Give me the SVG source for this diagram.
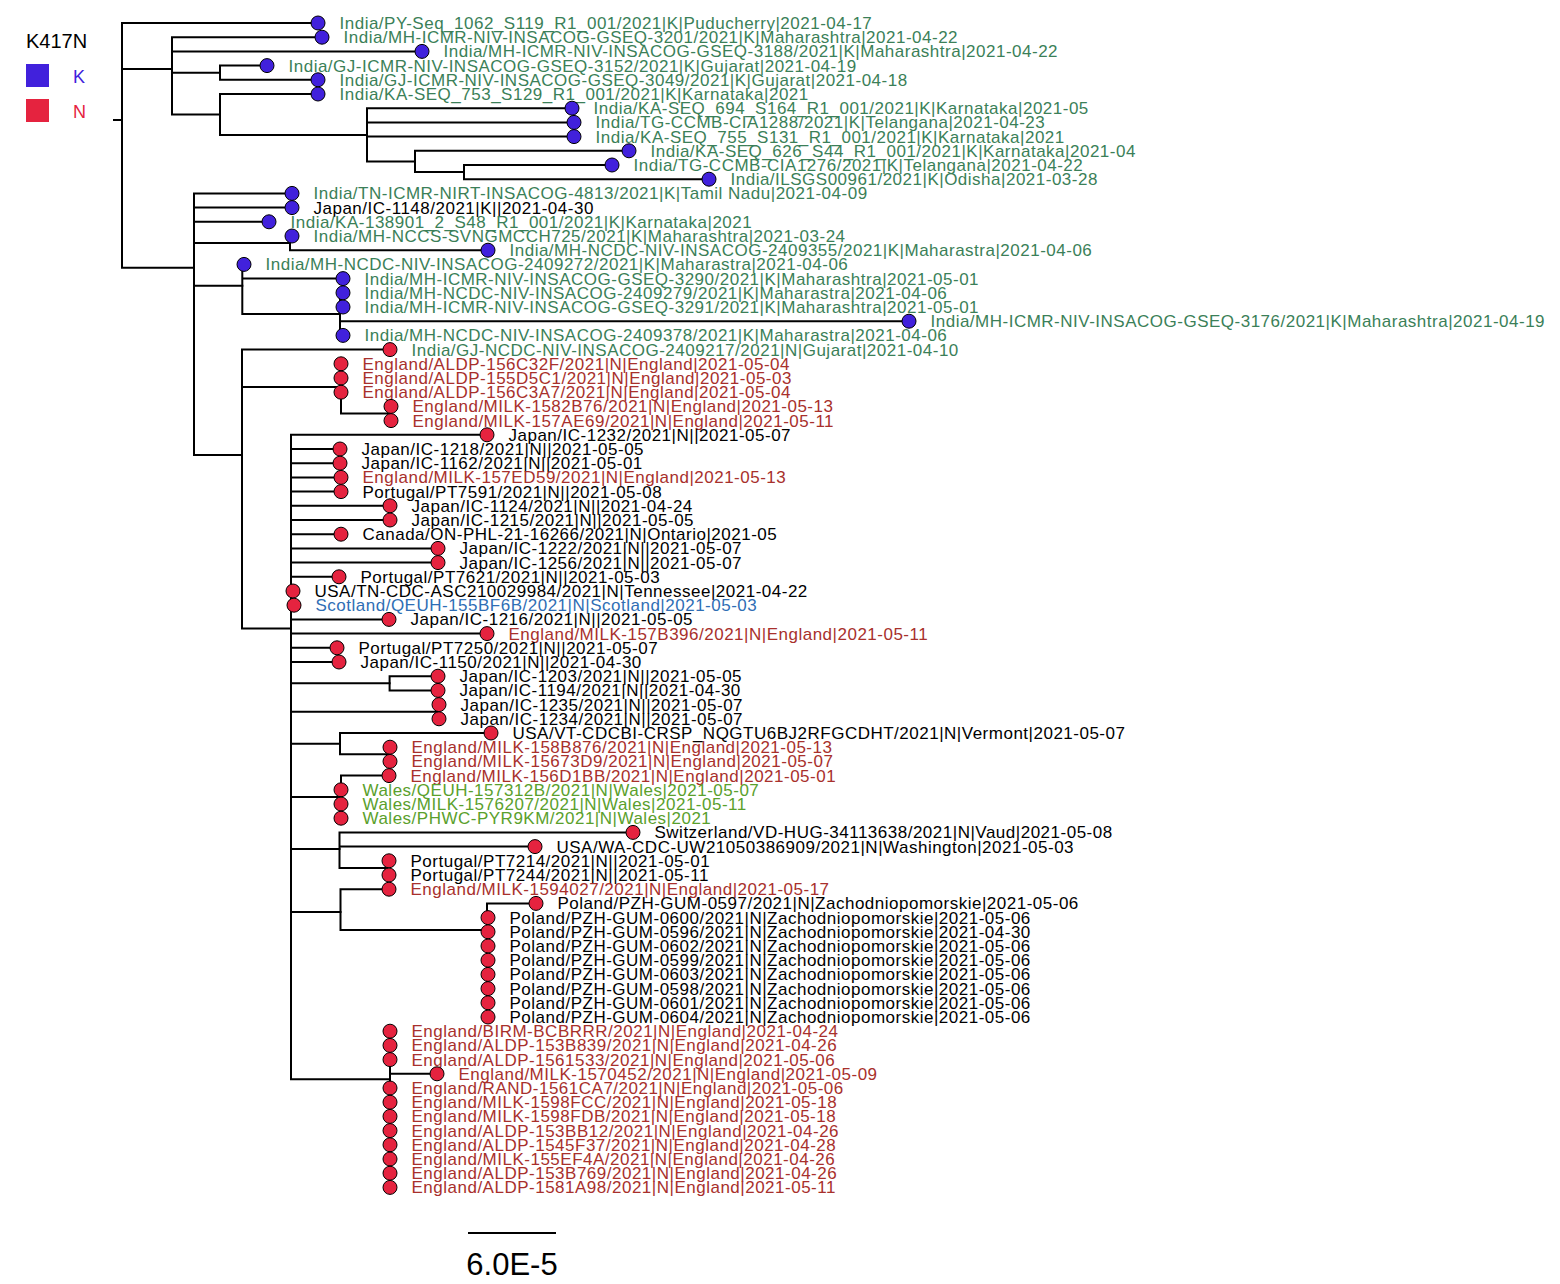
<svg xmlns="http://www.w3.org/2000/svg" width="1560" height="1284" viewBox="0 0 1560 1284">
<style>
text{font-family:"Liberation Sans",Arial,Helvetica,sans-serif;font-size:17px;letter-spacing:0.5px}
.in{fill:#3b7f58}.en{fill:#a8302c}.bk{fill:#000}.sc{fill:#2f6eb5}.wa{fill:#5aa02c}
.k{fill:#4121dc;stroke:#000;stroke-width:1}
.n{fill:#e5233f;stroke:#000;stroke-width:1}
#edges path{fill:none;stroke:#000;stroke-width:2;stroke-linecap:square}
</style>
<defs>
<circle id="ck" r="7" class="k"/>
<circle id="cn" r="7" class="n"/>
</defs>
<rect width="1560" height="1284" fill="#fff"/>
<g id="legend">
<text x="26" y="48" style="font-size:20px;letter-spacing:0" fill="#000">K417N</text>
<rect x="26" y="64" width="23" height="23" fill="#4121dc"/>
<text x="73" y="83" style="font-size:18px;letter-spacing:0" fill="#4121dc">K</text>
<rect x="26" y="99" width="23" height="23" fill="#e5233f"/>
<text x="73" y="118" style="font-size:18px;letter-spacing:0" fill="#e5233f">N</text>
</g>
<g id="edges">
<path d="M114,120 H122 M122,23 V267.8 M122,23 H318 M122,68.9 H172 M122,267.8 H194"/>
<path d="M172,37.2 V114.4 M172,37.2 H322 M172,51.4 H422 M172,72.7 H220 M172,114.4 H220"/>
<path d="M220,65.6 V79.8 M220,65.6 H267 M220,79.8 H318"/>
<path d="M220,94 V134.9 M220,94 H318 M220,134.9 H367"/>
<path d="M367,108.2 V161.5 M367,108.2 H572 M367,122.4 H574 M367,136.6 H574 M367,161.5 H415"/>
<path d="M415,150.8 V172.1 M415,150.8 H629 M415,172.1 H464"/>
<path d="M464,165 V179.2 M464,165 H612 M464,179.2 H709"/>
<path d="M194,193.4 V455 M194,193.4 H292 M194,207.6 H292 M194,221.8 H269 M194,243.1 H290 M194,285.7 H242.3 M194,455 H242"/>
<path d="M290,236 V250.2 M290,250.2 H488"/>
<path d="M242.3,264.4 V314.1 M242.3,264.4 H244 M242.3,278.6 H343 M242.3,314.1 H340"/>
<path d="M340,292.8 V335.4 M340,321.2 H909"/>
<path d="M242,349.6 V628.5 M242,349.6 H390 M242,386.9 H341 M242,628.5 H291"/>
<path d="M341,363.8 V413.5 M341,413.5 H391 M391,406.4 V420.6"/>
<path d="M291,434.8 V1079.3 M291,434.8 H487 M291,449 H340 M291,463.2 H340 M291,477.4 H341 M291,491.6 H341 M291,505.8 H390 M291,520 H390 M291,534.2 H341 M291,548.4 H438 M291,562.6 H438 M291,576.8 H339 M291,619.4 H389 M291,633.6 H487 M291,647.8 H337 M291,662 H339 M291,683.3 H389.6 M291,711.7 H437 M291,743.7 H340 M291,796.9 H341 M291,849 H339.5 M291,912 H340.5 M291,1079.3 H390"/>
<path d="M389.6,676.2 V690.4 M389.6,676.2 H438 M389.6,690.4 H438"/>
<path d="M437,704.6 V718.8"/>
<path d="M340,733 V754.3 M340,733 H491 M340,754.3 H388.3 M388.3,747.2 V761.4"/>
<path d="M341,775.6 V818.2 M341,775.6 H389"/>
<path d="M339.5,832.4 V867.9 M339.5,832.4 H633 M339.5,846.6 H535 M339.5,867.9 H387 M387,860.8 V875"/>
<path d="M340.5,889.2 V930 M340.5,889.2 H389 M340.5,930 H487"/>
<path d="M487,903.4 V1017 M487,903.4 H536"/>
<path d="M390,1031.2 V1187.4 M390,1073.8 H437"/>
</g>
<g id="leaves">
<g id="leaf01" transform="translate(318,23)"><use href="#ck"/><text x="21.5" y="6" class="in">India/PY-Seq_1062_S119_R1_001/2021|K|Puducherry|2021-04-17</text></g>
<g id="leaf02" transform="translate(322,37.2)"><use href="#ck"/><text x="21.5" y="6" class="in">India/MH-ICMR-NIV-INSACOG-GSEQ-3201/2021|K|Maharashtra|2021-04-22</text></g>
<g id="leaf03" transform="translate(422,51.4)"><use href="#ck"/><text x="21.5" y="6" class="in">India/MH-ICMR-NIV-INSACOG-GSEQ-3188/2021|K|Maharashtra|2021-04-22</text></g>
<g id="leaf04" transform="translate(267,65.6)"><use href="#ck"/><text x="21.5" y="6" class="in">India/GJ-ICMR-NIV-INSACOG-GSEQ-3152/2021|K|Gujarat|2021-04-19</text></g>
<g id="leaf05" transform="translate(318,79.8)"><use href="#ck"/><text x="21.5" y="6" class="in">India/GJ-ICMR-NIV-INSACOG-GSEQ-3049/2021|K|Gujarat|2021-04-18</text></g>
<g id="leaf06" transform="translate(318,94)"><use href="#ck"/><text x="21.5" y="6" class="in">India/KA-SEQ_753_S129_R1_001/2021|K|Karnataka|2021</text></g>
<g id="leaf07" transform="translate(572,108.2)"><use href="#ck"/><text x="21.5" y="6" class="in">India/KA-SEQ_694_S164_R1_001/2021|K|Karnataka|2021-05</text></g>
<g id="leaf08" transform="translate(574,122.4)"><use href="#ck"/><text x="21.5" y="6" class="in">India/TG-CCMB-CIA1288/2021|K|Telangana|2021-04-23</text></g>
<g id="leaf09" transform="translate(574,136.6)"><use href="#ck"/><text x="21.5" y="6" class="in">India/KA-SEQ_755_S131_R1_001/2021|K|Karnataka|2021</text></g>
<g id="leaf10" transform="translate(629,150.8)"><use href="#ck"/><text x="21.5" y="6" class="in">India/KA-SEQ_626_S44_R1_001/2021|K|Karnataka|2021-04</text></g>
<g id="leaf11" transform="translate(612,165)"><use href="#ck"/><text x="21.5" y="6" class="in">India/TG-CCMB-CIA1276/2021|K|Telangana|2021-04-22</text></g>
<g id="leaf12" transform="translate(709,179.2)"><use href="#ck"/><text x="21.5" y="6" class="in">India/ILSGS00961/2021|K|Odisha|2021-03-28</text></g>
<g id="leaf13" transform="translate(292,193.4)"><use href="#ck"/><text x="21.5" y="6" class="in">India/TN-ICMR-NIRT-INSACOG-4813/2021|K|Tamil Nadu|2021-04-09</text></g>
<g id="leaf14" transform="translate(292,207.6)"><use href="#ck"/><text x="21.5" y="6" class="bk">Japan/IC-1148/2021|K||2021-04-30</text></g>
<g id="leaf15" transform="translate(269,221.8)"><use href="#ck"/><text x="21.5" y="6" class="in">India/KA-138901_2_S48_R1_001/2021|K|Karnataka|2021</text></g>
<g id="leaf16" transform="translate(292,236)"><use href="#ck"/><text x="21.5" y="6" class="in">India/MH-NCCS-SVNGMCCH725/2021|K|Maharashtra|2021-03-24</text></g>
<g id="leaf17" transform="translate(488,250.2)"><use href="#ck"/><text x="21.5" y="6" class="in">India/MH-NCDC-NIV-INSACOG-2409355/2021|K|Maharastra|2021-04-06</text></g>
<g id="leaf18" transform="translate(244,264.4)"><use href="#ck"/><text x="21.5" y="6" class="in">India/MH-NCDC-NIV-INSACOG-2409272/2021|K|Maharastra|2021-04-06</text></g>
<g id="leaf19" transform="translate(343,278.6)"><use href="#ck"/><text x="21.5" y="6" class="in">India/MH-ICMR-NIV-INSACOG-GSEQ-3290/2021|K|Maharashtra|2021-05-01</text></g>
<g id="leaf20" transform="translate(343,292.8)"><use href="#ck"/><text x="21.5" y="6" class="in">India/MH-NCDC-NIV-INSACOG-2409279/2021|K|Maharastra|2021-04-06</text></g>
<g id="leaf21" transform="translate(343,307)"><use href="#ck"/><text x="21.5" y="6" class="in">India/MH-ICMR-NIV-INSACOG-GSEQ-3291/2021|K|Maharashtra|2021-05-01</text></g>
<g id="leaf22" transform="translate(909,321.2)"><use href="#ck"/><text x="21.5" y="6" class="in">India/MH-ICMR-NIV-INSACOG-GSEQ-3176/2021|K|Maharashtra|2021-04-19</text></g>
<g id="leaf23" transform="translate(343,335.4)"><use href="#ck"/><text x="21.5" y="6" class="in">India/MH-NCDC-NIV-INSACOG-2409378/2021|K|Maharastra|2021-04-06</text></g>
<g id="leaf24" transform="translate(390,349.6)"><use href="#cn"/><text x="21.5" y="6" class="in">India/GJ-NCDC-NIV-INSACOG-2409217/2021|N|Gujarat|2021-04-10</text></g>
<g id="leaf25" transform="translate(341,363.8)"><use href="#cn"/><text x="21.5" y="6" class="en">England/ALDP-156C32F/2021|N|England|2021-05-04</text></g>
<g id="leaf26" transform="translate(341,378)"><use href="#cn"/><text x="21.5" y="6" class="en">England/ALDP-155D5C1/2021|N|England|2021-05-03</text></g>
<g id="leaf27" transform="translate(341,392.2)"><use href="#cn"/><text x="21.5" y="6" class="en">England/ALDP-156C3A7/2021|N|England|2021-05-04</text></g>
<g id="leaf28" transform="translate(391,406.4)"><use href="#cn"/><text x="21.5" y="6" class="en">England/MILK-1582B76/2021|N|England|2021-05-13</text></g>
<g id="leaf29" transform="translate(391,420.6)"><use href="#cn"/><text x="21.5" y="6" class="en">England/MILK-157AE69/2021|N|England|2021-05-11</text></g>
<g id="leaf30" transform="translate(487,434.8)"><use href="#cn"/><text x="21.5" y="6" class="bk">Japan/IC-1232/2021|N||2021-05-07</text></g>
<g id="leaf31" transform="translate(340,449)"><use href="#cn"/><text x="21.5" y="6" class="bk">Japan/IC-1218/2021|N||2021-05-05</text></g>
<g id="leaf32" transform="translate(340,463.2)"><use href="#cn"/><text x="21.5" y="6" class="bk">Japan/IC-1162/2021|N||2021-05-01</text></g>
<g id="leaf33" transform="translate(341,477.4)"><use href="#cn"/><text x="21.5" y="6" class="en">England/MILK-157ED59/2021|N|England|2021-05-13</text></g>
<g id="leaf34" transform="translate(341,491.6)"><use href="#cn"/><text x="21.5" y="6" class="bk">Portugal/PT7591/2021|N||2021-05-08</text></g>
<g id="leaf35" transform="translate(390,505.8)"><use href="#cn"/><text x="21.5" y="6" class="bk">Japan/IC-1124/2021|N||2021-04-24</text></g>
<g id="leaf36" transform="translate(390,520)"><use href="#cn"/><text x="21.5" y="6" class="bk">Japan/IC-1215/2021|N||2021-05-05</text></g>
<g id="leaf37" transform="translate(341,534.2)"><use href="#cn"/><text x="21.5" y="6" class="bk">Canada/ON-PHL-21-16266/2021|N|Ontario|2021-05</text></g>
<g id="leaf38" transform="translate(438,548.4)"><use href="#cn"/><text x="21.5" y="6" class="bk">Japan/IC-1222/2021|N||2021-05-07</text></g>
<g id="leaf39" transform="translate(438,562.6)"><use href="#cn"/><text x="21.5" y="6" class="bk">Japan/IC-1256/2021|N||2021-05-07</text></g>
<g id="leaf40" transform="translate(339,576.8)"><use href="#cn"/><text x="21.5" y="6" class="bk">Portugal/PT7621/2021|N||2021-05-03</text></g>
<g id="leaf41" transform="translate(293,591)"><use href="#cn"/><text x="21.5" y="6" class="bk">USA/TN-CDC-ASC210029984/2021|N|Tennessee|2021-04-22</text></g>
<g id="leaf42" transform="translate(294,605.2)"><use href="#cn"/><text x="21.5" y="6" class="sc">Scotland/QEUH-155BF6B/2021|N|Scotland|2021-05-03</text></g>
<g id="leaf43" transform="translate(389,619.4)"><use href="#cn"/><text x="21.5" y="6" class="bk">Japan/IC-1216/2021|N||2021-05-05</text></g>
<g id="leaf44" transform="translate(487,633.6)"><use href="#cn"/><text x="21.5" y="6" class="en">England/MILK-157B396/2021|N|England|2021-05-11</text></g>
<g id="leaf45" transform="translate(337,647.8)"><use href="#cn"/><text x="21.5" y="6" class="bk">Portugal/PT7250/2021|N||2021-05-07</text></g>
<g id="leaf46" transform="translate(339,662)"><use href="#cn"/><text x="21.5" y="6" class="bk">Japan/IC-1150/2021|N||2021-04-30</text></g>
<g id="leaf47" transform="translate(438,676.2)"><use href="#cn"/><text x="21.5" y="6" class="bk">Japan/IC-1203/2021|N||2021-05-05</text></g>
<g id="leaf48" transform="translate(438,690.4)"><use href="#cn"/><text x="21.5" y="6" class="bk">Japan/IC-1194/2021|N||2021-04-30</text></g>
<g id="leaf49" transform="translate(439,704.6)"><use href="#cn"/><text x="21.5" y="6" class="bk">Japan/IC-1235/2021|N||2021-05-07</text></g>
<g id="leaf50" transform="translate(439,718.8)"><use href="#cn"/><text x="21.5" y="6" class="bk">Japan/IC-1234/2021|N||2021-05-07</text></g>
<g id="leaf51" transform="translate(491,733)"><use href="#cn"/><text x="21.5" y="6" class="bk">USA/VT-CDCBI-CRSP_NQGTU6BJ2RFGCDHT/2021|N|Vermont|2021-05-07</text></g>
<g id="leaf52" transform="translate(390,747.2)"><use href="#cn"/><text x="21.5" y="6" class="en">England/MILK-158B876/2021|N|England|2021-05-13</text></g>
<g id="leaf53" transform="translate(390,761.4)"><use href="#cn"/><text x="21.5" y="6" class="en">England/MILK-15673D9/2021|N|England|2021-05-07</text></g>
<g id="leaf54" transform="translate(389,775.6)"><use href="#cn"/><text x="21.5" y="6" class="en">England/MILK-156D1BB/2021|N|England|2021-05-01</text></g>
<g id="leaf55" transform="translate(341,789.8)"><use href="#cn"/><text x="21.5" y="6" class="wa">Wales/QEUH-157312B/2021|N|Wales|2021-05-07</text></g>
<g id="leaf56" transform="translate(341,804)"><use href="#cn"/><text x="21.5" y="6" class="wa">Wales/MILK-1576207/2021|N|Wales|2021-05-11</text></g>
<g id="leaf57" transform="translate(341,818.2)"><use href="#cn"/><text x="21.5" y="6" class="wa">Wales/PHWC-PYR9KM/2021|N|Wales|2021</text></g>
<g id="leaf58" transform="translate(633,832.4)"><use href="#cn"/><text x="21.5" y="6" class="bk">Switzerland/VD-HUG-34113638/2021|N|Vaud|2021-05-08</text></g>
<g id="leaf59" transform="translate(535,846.6)"><use href="#cn"/><text x="21.5" y="6" class="bk">USA/WA-CDC-UW21050386909/2021|N|Washington|2021-05-03</text></g>
<g id="leaf60" transform="translate(389,860.8)"><use href="#cn"/><text x="21.5" y="6" class="bk">Portugal/PT7214/2021|N||2021-05-01</text></g>
<g id="leaf61" transform="translate(389,875)"><use href="#cn"/><text x="21.5" y="6" class="bk">Portugal/PT7244/2021|N||2021-05-11</text></g>
<g id="leaf62" transform="translate(389,889.2)"><use href="#cn"/><text x="21.5" y="6" class="en">England/MILK-1594027/2021|N|England|2021-05-17</text></g>
<g id="leaf63" transform="translate(536,903.4)"><use href="#cn"/><text x="21.5" y="6" class="bk">Poland/PZH-GUM-0597/2021|N|Zachodniopomorskie|2021-05-06</text></g>
<g id="leaf64" transform="translate(488,917.6)"><use href="#cn"/><text x="21.5" y="6" class="bk">Poland/PZH-GUM-0600/2021|N|Zachodniopomorskie|2021-05-06</text></g>
<g id="leaf65" transform="translate(488,931.8)"><use href="#cn"/><text x="21.5" y="6" class="bk">Poland/PZH-GUM-0596/2021|N|Zachodniopomorskie|2021-04-30</text></g>
<g id="leaf66" transform="translate(488,946)"><use href="#cn"/><text x="21.5" y="6" class="bk">Poland/PZH-GUM-0602/2021|N|Zachodniopomorskie|2021-05-06</text></g>
<g id="leaf67" transform="translate(488,960.2)"><use href="#cn"/><text x="21.5" y="6" class="bk">Poland/PZH-GUM-0599/2021|N|Zachodniopomorskie|2021-05-06</text></g>
<g id="leaf68" transform="translate(488,974.4)"><use href="#cn"/><text x="21.5" y="6" class="bk">Poland/PZH-GUM-0603/2021|N|Zachodniopomorskie|2021-05-06</text></g>
<g id="leaf69" transform="translate(488,988.6)"><use href="#cn"/><text x="21.5" y="6" class="bk">Poland/PZH-GUM-0598/2021|N|Zachodniopomorskie|2021-05-06</text></g>
<g id="leaf70" transform="translate(488,1002.8)"><use href="#cn"/><text x="21.5" y="6" class="bk">Poland/PZH-GUM-0601/2021|N|Zachodniopomorskie|2021-05-06</text></g>
<g id="leaf71" transform="translate(488,1017)"><use href="#cn"/><text x="21.5" y="6" class="bk">Poland/PZH-GUM-0604/2021|N|Zachodniopomorskie|2021-05-06</text></g>
<g id="leaf72" transform="translate(390,1031.2)"><use href="#cn"/><text x="21.5" y="6" class="en">England/BIRM-BCBRRR/2021|N|England|2021-04-24</text></g>
<g id="leaf73" transform="translate(390,1045.4)"><use href="#cn"/><text x="21.5" y="6" class="en">England/ALDP-153B839/2021|N|England|2021-04-26</text></g>
<g id="leaf74" transform="translate(390,1059.6)"><use href="#cn"/><text x="21.5" y="6" class="en">England/ALDP-1561533/2021|N|England|2021-05-06</text></g>
<g id="leaf75" transform="translate(437,1073.8)"><use href="#cn"/><text x="21.5" y="6" class="en">England/MILK-1570452/2021|N|England|2021-05-09</text></g>
<g id="leaf76" transform="translate(390,1088)"><use href="#cn"/><text x="21.5" y="6" class="en">England/RAND-1561CA7/2021|N|England|2021-05-06</text></g>
<g id="leaf77" transform="translate(390,1102.2)"><use href="#cn"/><text x="21.5" y="6" class="en">England/MILK-1598FCC/2021|N|England|2021-05-18</text></g>
<g id="leaf78" transform="translate(390,1116.4)"><use href="#cn"/><text x="21.5" y="6" class="en">England/MILK-1598FDB/2021|N|England|2021-05-18</text></g>
<g id="leaf79" transform="translate(390,1130.6)"><use href="#cn"/><text x="21.5" y="6" class="en">England/ALDP-153BB12/2021|N|England|2021-04-26</text></g>
<g id="leaf80" transform="translate(390,1144.8)"><use href="#cn"/><text x="21.5" y="6" class="en">England/ALDP-1545F37/2021|N|England|2021-04-28</text></g>
<g id="leaf81" transform="translate(390,1159)"><use href="#cn"/><text x="21.5" y="6" class="en">England/MILK-155EF4A/2021|N|England|2021-04-26</text></g>
<g id="leaf82" transform="translate(390,1173.2)"><use href="#cn"/><text x="21.5" y="6" class="en">England/ALDP-153B769/2021|N|England|2021-04-26</text></g>
<g id="leaf83" transform="translate(390,1187.4)"><use href="#cn"/><text x="21.5" y="6" class="en">England/ALDP-1581A98/2021|N|England|2021-05-11</text></g>
</g>
<g id="scale">
<path d="M468,1233 H556" stroke="#000" stroke-width="2" fill="none"/>
<text x="512" y="1275" text-anchor="middle" style="font-size:31px;letter-spacing:0" fill="#000">6.0E-5</text>
</g>
</svg>
